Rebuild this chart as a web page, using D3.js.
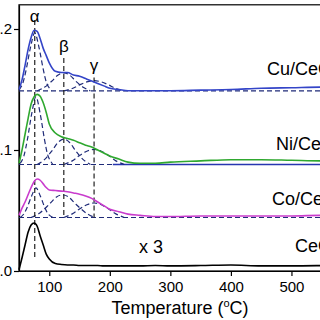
<!DOCTYPE html>
<html lang="en">
<head>
  <meta charset="utf-8">
  <title>TPR profiles</title>
  <script src="https://cdn.jsdelivr.net/npm/d3@7"></script>
  <style>
    body { margin: 0; background: #fff; }
    svg { display: block; font-family: "Liberation Sans", Arial, sans-serif; }
  </style>
</head>
<body>
  <svg id="chart"></svg>
  <script>
    // temperature grid (oC) used for the measured curves
    var temps = [50, 55, 60, 65, 70, 75, 80, 85, 90, 95, 100, 110, 120, 130, 140, 150, 160, 170, 180, 190, 200,
      215, 230, 250, 275, 300, 350, 400, 450, 500, 550, 600];

    var cuData = [0.150, 0.158, 0.170, 0.183, 0.193, 0.199, 0.198, 0.192, 0.184, 0.178, 0.172,
      0.165, 0.164, 0.164, 0.162, 0.161, 0.159, 0.157, 0.155, 0.153, 0.151,
      0.150, 0.149, 0.149, 0.149, 0.149, 0.1495, 0.150, 0.151, 0.1515, 0.152, 0.152];
    var niData = [0.089, 0.100, 0.113, 0.126, 0.138, 0.144, 0.146, 0.1445, 0.139, 0.131, 0.1215,
      0.114, 0.111, 0.1095, 0.108, 0.106, 0.104, 0.1025, 0.100, 0.0975, 0.095,
      0.0925, 0.090, 0.089, 0.089, 0.090, 0.091, 0.092, 0.092, 0.0915, 0.091, 0.091];
    var coData = [0.046, 0.052, 0.057, 0.063, 0.069, 0.074, 0.076, 0.075, 0.072, 0.069, 0.067,
      0.0665, 0.066, 0.0655, 0.0645, 0.0635, 0.062, 0.060, 0.057, 0.054, 0.051,
      0.049, 0.047, 0.046, 0.045, 0.045, 0.0455, 0.0455, 0.0455, 0.0455, 0.046, 0.046];
    var ceData = [0.001, 0.011, 0.0215, 0.032, 0.038, 0.0397, 0.037, 0.029, 0.0215, 0.014, 0.010,
      0.0062, 0.0054, 0.005, 0.005, 0.0045, 0.0045, 0.0045, 0.0045, 0.0042, 0.0042,
      0.0042, 0.0042, 0.0042, 0.0045, 0.0042, 0.0045, 0.005, 0.0042, 0.0042, 0.0045, 0.005];

    // fit baselines of the offset curves
    var baselines = { cu: 0.1488, ni: 0.088, co: 0.0442 };

    // deconvoluted components: [temperature, height above baseline]
    var cuAlpha = [[50, 0.001], [56, 0.006], [62, 0.018], [69, 0.036], [76, 0.048], [83, 0.036], [90, 0.018], [96, 0.006], [104, 0]];
    var cuBeta = [[80, 0], [92, 0.003], [104, 0.008], [114, 0.013], [124, 0.015], [134, 0.013], [144, 0.008], [156, 0.003], [168, 0]];
    var cuGamma = [[124, 0], [138, 0.002], [150, 0.005], [162, 0.0075], [174, 0.0085], [186, 0.0075], [198, 0.005], [210, 0.002], [224, 0]];
    var niAlpha = [[52, 0.001], [58, 0.007], [64, 0.021], [71, 0.042], [78, 0.056], [85, 0.042], [92, 0.021], [98, 0.007], [106, 0]];
    var niBeta = [[80, 0], [92, 0.004], [104, 0.011], [114, 0.018], [124, 0.021], [134, 0.018], [144, 0.011], [156, 0.004], [168, 0]];
    var niGamma = [[124, 0], [138, 0.003], [150, 0.0075], [162, 0.011], [174, 0.0125], [186, 0.011], [198, 0.0075], [210, 0.003], [224, 0]];
    var coAlpha = [[52, 0], [58, 0.003], [64, 0.009], [71, 0.018], [78, 0.0245], [85, 0.018], [92, 0.009], [98, 0.003], [106, 0]];
    var coBeta = [[70, 0], [85, 0.004], [100, 0.011], [112, 0.017], [122, 0.0186], [132, 0.017], [144, 0.011], [160, 0.004], [175, 0]];
    var coGamma = [[124, 0], [138, 0.003], [150, 0.007], [162, 0.0105], [174, 0.012], [186, 0.0105], [198, 0.007], [210, 0.003], [224, 0]];

    // peak markers
    var peakNames = ["\u03b1", "\u03b2", "\u03b3"];
    var peakTemps = [76, 124, 174];
    var peakTops = [0.2075, 0.176, 0.160];
    var peakBottoms = [0.009, 0.0442, 0.0442];

    var xTicks = [100, 200, 300, 400, 500, 600];
    var yTicks = [0, 0.1, 0.2];

    var w = 320, h = 320;
    var mLeft = 19, mTop = 4.8, mBottom = 271, mRight = 352;

    var svg = d3.select("#chart").attr("width", w).attr("height", h);

    var x = d3.scaleLinear().domain([50, 600]).range([mLeft, mRight]);
    var y = d3.scaleLinear().domain([0, 0.22]).range([mBottom, mTop]);

    var blue = "#3445c8", green = "#2fa82f", magenta = "#c93ccd", navy = "#1f2b78";

    // frame
    svg.append("rect")
      .attr("x", mLeft).attr("y", mTop)
      .attr("width", mRight - mLeft).attr("height", mBottom - mTop)
      .attr("fill", "none").attr("stroke", "#000").attr("stroke-width", 1.2);

    var yAxis = d3.axisLeft(y).tickValues(yTicks).tickFormat(d3.format(".1f"))
      .tickSize(5).tickSizeOuter(0).tickPadding(2);
    var xAxis = d3.axisBottom(x).tickValues(xTicks).tickFormat(d3.format("d"))
      .tickSize(5).tickSizeOuter(0).tickPadding(5);

    var gy = svg.append("g").attr("transform", "translate(" + mLeft + ",0)").call(yAxis);
    var gx = svg.append("g").attr("transform", "translate(0," + mBottom + ")").call(xAxis);
    [gx, gy].forEach(function(g) {
      g.selectAll("text").attr("font-size", 15).attr("font-family", "Liberation Sans, Arial, sans-serif").attr("fill", "#000");
      g.selectAll("line,path").attr("stroke", "#000").attr("stroke-width", 1.2);
    });

    var dataLine = d3.line()
      .x(function(d) { return x(d[0]); })
      .y(function(d) { return y(d[1]); })
      .curve(d3.curveMonotoneX);

    function compLine(base) {
      return d3.line()
        .x(function(d) { return x(d[0]); })
        .y(function(d) { return y(base + d[1]); })
        .curve(d3.curveCardinal);
    }

    function zip(vals) {
      return temps.map(function(t, i) { return [t, vals[i]]; });
    }

    // baselines (dashed)
    ["cu", "ni", "co"].forEach(function(k) {
      svg.append("line")
        .attr("x1", x(50)).attr("x2", x(600))
        .attr("y1", y(baselines[k])).attr("y2", y(baselines[k]))
        .attr("stroke", navy).attr("stroke-width", 1.2).attr("stroke-dasharray", "5,3");
    });

    // fit envelope tail of Ni sitting on its baseline
    svg.append("line")
      .attr("x1", x(205)).attr("x2", x(600))
      .attr("y1", y(baselines.ni)).attr("y2", y(baselines.ni))
      .attr("stroke", "#2736b0").attr("stroke-width", 1.4);

    // components
    [[cuAlpha, "cu"], [cuBeta, "cu"], [cuGamma, "cu"],
     [niAlpha, "ni"], [niBeta, "ni"], [niGamma, "ni"],
     [coAlpha, "co"], [coBeta, "co"], [coGamma, "co"]].forEach(function(c) {
      svg.append("path")
        .attr("d", compLine(baselines[c[1]])(c[0]))
        .attr("fill", "none").attr("stroke", navy).attr("stroke-width", 1.2)
        .attr("stroke-dasharray", "5,3");
    });

    // vertical peak lines
    peakTemps.forEach(function(t, i) {
      svg.append("line")
        .attr("x1", x(t)).attr("x2", x(t))
        .attr("y1", y(peakTops[i])).attr("y2", y(peakBottoms[i]))
        .attr("stroke", "#222").attr("stroke-width", 1.2).attr("stroke-dasharray", "5,3");
    });

    // measured curves
    [[cuData, blue], [niData, green], [coData, magenta], [ceData, "#000"]].forEach(function(s) {
      svg.append("path")
        .attr("d", dataLine(zip(s[0])))
        .attr("fill", "none").attr("stroke", s[1]).attr("stroke-width", 1.6);
    });

    // peak names
    var peakLabelY = [22, 52, 71];
    peakNames.forEach(function(n, i) {
      svg.append("text")
        .attr("x", x(peakTemps[i])).attr("y", peakLabelY[i])
        .attr("text-anchor", "middle").attr("font-size", 17).text(n);
    });

    // sample labels
    var sampleLabels = [["Cu/CeO", 267, 75], ["Ni/CeO", 276, 150], ["Co/CeO", 272, 205], ["CeO", 295, 252]];
    sampleLabels.forEach(function(s) {
      var t = svg.append("text").attr("x", s[1]).attr("y", s[2]).attr("font-size", 18).text(s[0]);
      t.append("tspan").attr("font-size", 12).attr("dy", 4).text("2");
    });
    svg.append("text").attr("x", 139).attr("y", 253).attr("font-size", 18).text("x 3");

    // x axis title
    var xt = svg.append("text").attr("x", 180).attr("y", 314)
      .attr("text-anchor", "middle").attr("font-size", 18);
    xt.append("tspan").text("Temperature (");
    xt.append("tspan").attr("font-size", 11).attr("dy", -7).text("o");
    xt.append("tspan").attr("dy", 7).text("C)");
  </script>
</body>
</html>
